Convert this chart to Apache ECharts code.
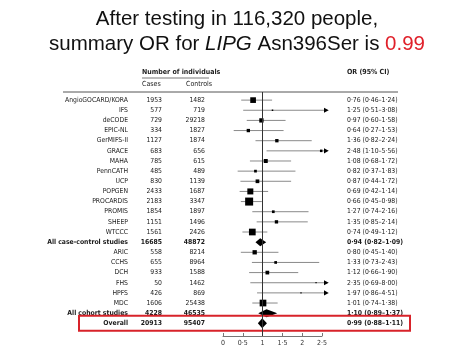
<!DOCTYPE html>
<html>
<head>
<meta charset="utf-8">
<script src="https://cdn.jsdelivr.net/npm/echarts@6/dist/echarts.min.js"></script>
<style>
  html, body { margin: 0; padding: 0; background: #fff; }
  #chart { width: 474px; height: 355px; }
</style>
</head>
<body>
<div id="chart"></div>
<script>
// 研究名称
var studies = ['AngioGOCARD/KORA', 'IFS', 'deCODE', 'EPIC-NL', 'GerMIFS-II', 'GRACE', 'MAHA', 'PennCATH', 'UCP', 'POPGEN', 'PROCARDIS', 'PROMIS', 'SHEEP', 'WTCCC', 'All case-control studies', 'ARIC', 'CCHS', 'DCH', 'FHS', 'HPFS', 'MDC', 'All cohort studies', 'Overall']
var cases = [1953, 577, 729, 334, 1127, 683, 785, 485, 830, 2433, 2183, 1854, 1151, 1561, 16685, 558, 655, 933, 50, 426, 1606, 4228, 20913]
var controls = [1482, 719, 29218, 1827, 1874, 656, 615, 489, 1139, 1687, 3347, 1897, 1496, 2426, 48872, 8214, 8964, 1588, 1462, 869, 25438, 46535, 95407]
// OR 与 95% CI
var orVal = [0.76, 1.25, 0.97, 0.64, 1.36, 2.48, 1.08, 0.82, 0.87, 0.69, 0.66, 1.27, 1.35, 0.74, 0.94, 0.80, 1.33, 1.12, 2.35, 1.97, 1.01, 1.10, 0.99]
var ciLow = [0.46, 0.51, 0.60, 0.27, 0.82, 1.10, 0.68, 0.37, 0.44, 0.42, 0.45, 0.74, 0.85, 0.49, 0.82, 0.45, 0.73, 0.66, 0.69, 0.86, 0.74, 0.89, 0.88]
var ciHigh = [1.24, 3.08, 1.58, 1.53, 2.24, 5.56, 1.72, 1.83, 1.72, 1.14, 0.98, 2.16, 2.14, 1.12, 1.09, 1.40, 2.43, 1.90, 8.00, 4.51, 1.38, 1.37, 1.11]
// 估计的权重(%),null 为汇总行
var weights = [6.1, 0.43, 3.5, 2.1, 2.1, 1.2, 3.0, 1.4, 2.6, 6.8, 12.1, 1.4, 2.1, 8.5, null, 3.5, 1.4, 2.6, 0.3, 0.3, 8.5, null, null]
var xTicks = [0, 0.5, 1, 1.5, 2, 2.5]

var FONT = '"Liberation Sans Narrow", "DejaVu Sans Condensed", sans-serif'
var TITLE_FONT = '"Liberation Sans", Arial, sans-serif'
var CLIP = 2.55 // 箭头起点
var TIP = 2.67

function dot(v) { return v.toFixed(2).replace('.', '·') }
function isSummary(i) { return weights[i] == null }

var chart = echarts.init(document.getElementById('chart'))

var forestData = studies.map(function (s, i) { return [orVal[i], i] })

var option = {
    animation: false,
    title: {
        left: 'center',
        top: 7,
        padding: 0,
        text: 'After testing in 116,320 people,\nsummary OR for {i|LIPG} Asn396Ser is {r|0.99}',
        textStyle: {
            fontFamily: TITLE_FONT,
            fontSize: 20.5,
            fontWeight: 'normal',
            color: '#111',
            lineHeight: 25,
            align: 'center',
            rich: {
                i: { fontStyle: 'italic', fontSize: 20.5, fontFamily: TITLE_FONT, color: '#111', lineHeight: 25 },
                r: { color: '#e0202a', fontSize: 20.5, fontFamily: TITLE_FONT, lineHeight: 25 }
            }
        }
    },
    grid: { left: 223, right: 152, top: 92, bottom: 19 },
    xAxis: {
        type: 'value',
        min: 0,
        max: 2.5,
        interval: 0.5,
        splitLine: { show: false },
        axisLine: { onZero: false, lineStyle: { color: '#777', width: 1 } },
        axisTick: { inside: true, length: 3, lineStyle: { color: '#777' } },
        axisLabel: {
            fontSize: 7,
            fontFamily: FONT,
            color: '#333',
            margin: 4,
            formatter: function (v) { return String(v).replace('.', '·') }
        }
    },
    yAxis: { type: 'value', inverse: true, min: -0.8, max: 23.25, show: false },
    graphic: [
        // 表头横线
        { type: 'line', shape: { x1: 63, y1: 92, x2: 398, y2: 92 }, style: { stroke: '#555', lineWidth: 1 } },
        { type: 'line', shape: { x1: 142, y1: 78, x2: 209, y2: 78 }, style: { stroke: '#555', lineWidth: 0.8 } },
        { type: 'text', left: 142, top: 69, style: { text: 'Number of individuals', font: 'bold 7px ' + FONT, fill: '#222' } },
        { type: 'text', left: 142, top: 81, style: { text: 'Cases', font: '7px ' + FONT, fill: '#222' } },
        { type: 'text', left: 186, top: 81, style: { text: 'Controls', font: '7px ' + FONT, fill: '#222' } },
        { type: 'text', left: 347, top: 69, style: { text: 'OR (95% CI)', font: 'bold 7px ' + FONT, fill: '#222' } }
    ],
    series: [
        {
            // 森林图主体
            type: 'custom',
            clip: false,
            data: forestData,
            renderItem: function (params, api) {
                var i = params.dataIndex
                var y = api.coord([0, i])[1]
                var x0 = api.coord([ciLow[i], i])[0]
                var children = []
                if (isSummary(i)) {
                    var xr = api.coord([ciHigh[i], i])[0]
                    var xc = api.coord([orVal[i], i])[0]
                    var h = i == 22 ? 5 : 4
                    children.push({
                        type: 'polygon',
                        shape: { points: [[x0, y], [xc, y - h], [xr, y], [xc, y + h]] },
                        style: { fill: '#000' }
                    })
                    return { type: 'group', children: children }
                }
                var over = ciHigh[i] > CLIP
                var x1 = api.coord([over ? CLIP : ciHigh[i], i])[0]
                children.push({
                    type: 'line',
                    shape: { x1: x0, y1: y, x2: x1, y2: y },
                    style: { stroke: '#8a8a8a', lineWidth: 1 }
                })
                if (over) {
                    var xt = api.coord([TIP, i])[0]
                    children.push({
                        type: 'polygon',
                        shape: { points: [[x1, y - 2.6], [xt, y], [x1, y + 2.6]] },
                        style: { fill: '#000' }
                    })
                }
                var xc2 = api.coord([orVal[i], i])[0]
                var side = 2.3 * Math.sqrt(weights[i])
                children.push({
                    type: 'rect',
                    shape: { x: xc2 - side / 2, y: y - side / 2, width: side, height: side },
                    style: { fill: '#000' }
                })
                return { type: 'group', children: children }
            },
            markLine: {
                silent: true,
                symbol: 'none',
                label: { show: false },
                lineStyle: { color: '#333', width: 1, type: 'solid' },
                data: [{ xAxis: 1 }]
            },
            z: 3
        },
        {
            // 文字列
            type: 'custom',
            clip: false,
            data: forestData,
            renderItem: function (params, api) {
                var i = params.dataIndex
                var y = api.coord([0, i])[1]
                var bold = isSummary(i) ? 'bold ' : ''
                var font = bold + '6.8px ' + FONT
                var children = [
                    { type: 'text', style: { text: studies[i], x: 128, y: y, align: 'right', verticalAlign: 'middle', font: font, fill: '#1a1a1a' } },
                    { type: 'text', style: { text: String(cases[i]), x: 162, y: y, align: 'right', verticalAlign: 'middle', font: font, fill: '#1a1a1a' } },
                    { type: 'text', style: { text: String(controls[i]), x: 205, y: y, align: 'right', verticalAlign: 'middle', font: font, fill: '#1a1a1a' } },
                    { type: 'text', style: { text: dot(orVal[i]) + ' (' + dot(ciLow[i]) + '–' + dot(ciHigh[i]) + ')', x: 347, y: y, align: 'left', verticalAlign: 'middle', font: font, fill: '#1a1a1a' } }
                ]
                if (i == studies.length - 1) {
                    // 红框标出 Overall
                    children.push({
                        type: 'rect',
                        shape: { x: 79, y: y - 7.5, width: 331, height: 15 },
                        style: { fill: 'none', stroke: '#d8232a', lineWidth: 2 },
                        z2: 10
                    })
                }
                return { type: 'group', children: children }
            },
            z: 4
        }
    ]
}

chart.setOption(option)
</script>
</body>
</html>
